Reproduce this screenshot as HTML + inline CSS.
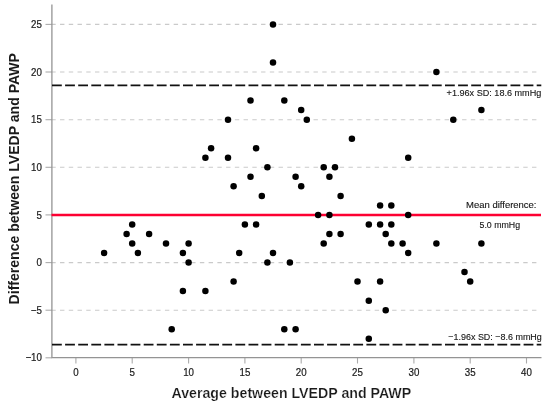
<!DOCTYPE html>
<html><head><meta charset="utf-8"><title>Bland-Altman plot</title>
<style>html,body{margin:0;padding:0;background:#fff}svg{display:block}text{font-family:"Liberation Sans",Arial,sans-serif;fill:#1a1a1a}</style></head><body>
<svg width="550" height="405" viewBox="0 0 550 405">
<rect width="550" height="405" fill="#fff"/>
<g stroke="#cacaca" stroke-width="1.1" stroke-dasharray="4.4 4.34" fill="none">
<line x1="51.3" x2="538" y1="24.4" y2="24.4"/>
<line x1="51.3" x2="538" y1="72.0" y2="72.0"/>
<line x1="51.3" x2="538" y1="119.7" y2="119.7"/>
<line x1="51.3" x2="538" y1="167.3" y2="167.3"/>
<line x1="51.3" x2="538" y1="214.9" y2="214.9"/>
<line x1="51.3" x2="538" y1="262.6" y2="262.6"/>
<line x1="51.3" x2="538" y1="310.2" y2="310.2"/>
</g>
<g stroke="#ababab" stroke-width="1.1" fill="none">
<line x1="45.5" x2="51.9" y1="24.4" y2="24.4"/>
<line x1="45.5" x2="51.9" y1="72.0" y2="72.0"/>
<line x1="45.5" x2="51.9" y1="119.7" y2="119.7"/>
<line x1="45.5" x2="51.9" y1="167.3" y2="167.3"/>
<line x1="45.5" x2="51.9" y1="214.9" y2="214.9"/>
<line x1="45.5" x2="51.9" y1="262.6" y2="262.6"/>
<line x1="45.5" x2="51.9" y1="310.2" y2="310.2"/>
<line x1="45.5" x2="51.9" y1="357.8" y2="357.8"/>
<line x1="75.9" x2="75.9" y1="357.7" y2="363.5"/>
<line x1="132.2" x2="132.2" y1="357.7" y2="363.5"/>
<line x1="188.6" x2="188.6" y1="357.7" y2="363.5"/>
<line x1="244.9" x2="244.9" y1="357.7" y2="363.5"/>
<line x1="301.2" x2="301.2" y1="357.7" y2="363.5"/>
<line x1="357.5" x2="357.5" y1="357.7" y2="363.5"/>
<line x1="413.9" x2="413.9" y1="357.7" y2="363.5"/>
<line x1="470.2" x2="470.2" y1="357.7" y2="363.5"/>
<line x1="526.5" x2="526.5" y1="357.7" y2="363.5"/>
</g>
<path d="M51.9 4.4V357.7H541.5" stroke="#949494" stroke-width="1.3" fill="none"/>
<g stroke="#111" stroke-width="1.75" stroke-dasharray="9.8 3.3" fill="none">
<line x1="52" x2="541.3" y1="85.4" y2="85.4"/>
<line x1="52" x2="541.3" y1="344.5" y2="344.5"/>
</g>
<line x1="51.5" x2="541" y1="214.9" y2="214.9" stroke="#fd0032" stroke-width="2.5"/>
<g fill="#000">
<circle cx="104.1" cy="253.0" r="3.25"/>
<circle cx="126.6" cy="234.0" r="3.25"/>
<circle cx="132.2" cy="224.4" r="3.25"/>
<circle cx="132.2" cy="243.5" r="3.25"/>
<circle cx="137.9" cy="253.0" r="3.25"/>
<circle cx="149.1" cy="234.0" r="3.25"/>
<circle cx="166.0" cy="243.5" r="3.25"/>
<circle cx="171.7" cy="329.2" r="3.25"/>
<circle cx="182.9" cy="253.0" r="3.25"/>
<circle cx="182.9" cy="291.1" r="3.25"/>
<circle cx="188.6" cy="243.5" r="3.25"/>
<circle cx="188.6" cy="262.6" r="3.25"/>
<circle cx="205.4" cy="157.8" r="3.25"/>
<circle cx="205.4" cy="291.1" r="3.25"/>
<circle cx="211.1" cy="148.2" r="3.25"/>
<circle cx="228.0" cy="119.7" r="3.25"/>
<circle cx="228.0" cy="157.8" r="3.25"/>
<circle cx="233.6" cy="186.3" r="3.25"/>
<circle cx="233.6" cy="281.6" r="3.25"/>
<circle cx="239.2" cy="253.0" r="3.25"/>
<circle cx="244.9" cy="224.4" r="3.25"/>
<circle cx="250.5" cy="100.6" r="3.25"/>
<circle cx="250.5" cy="176.8" r="3.25"/>
<circle cx="256.1" cy="148.2" r="3.25"/>
<circle cx="256.1" cy="224.4" r="3.25"/>
<circle cx="261.8" cy="195.9" r="3.25"/>
<circle cx="267.4" cy="167.3" r="3.25"/>
<circle cx="267.4" cy="262.6" r="3.25"/>
<circle cx="273.0" cy="24.4" r="3.25"/>
<circle cx="273.0" cy="62.5" r="3.25"/>
<circle cx="273.0" cy="253.0" r="3.25"/>
<circle cx="284.3" cy="100.6" r="3.25"/>
<circle cx="284.3" cy="329.2" r="3.25"/>
<circle cx="289.9" cy="262.6" r="3.25"/>
<circle cx="295.6" cy="176.8" r="3.25"/>
<circle cx="295.6" cy="329.2" r="3.25"/>
<circle cx="301.2" cy="110.1" r="3.25"/>
<circle cx="301.2" cy="186.3" r="3.25"/>
<circle cx="306.8" cy="119.7" r="3.25"/>
<circle cx="318.1" cy="214.9" r="3.25"/>
<circle cx="323.7" cy="167.3" r="3.25"/>
<circle cx="323.7" cy="243.5" r="3.25"/>
<circle cx="329.4" cy="176.8" r="3.25"/>
<circle cx="329.4" cy="214.9" r="3.25"/>
<circle cx="329.4" cy="234.0" r="3.25"/>
<circle cx="335.0" cy="167.3" r="3.25"/>
<circle cx="340.6" cy="195.9" r="3.25"/>
<circle cx="340.6" cy="234.0" r="3.25"/>
<circle cx="351.9" cy="138.7" r="3.25"/>
<circle cx="357.5" cy="281.6" r="3.25"/>
<circle cx="368.8" cy="224.4" r="3.25"/>
<circle cx="368.8" cy="300.7" r="3.25"/>
<circle cx="368.8" cy="338.8" r="3.25"/>
<circle cx="380.1" cy="205.4" r="3.25"/>
<circle cx="380.1" cy="224.4" r="3.25"/>
<circle cx="380.1" cy="281.6" r="3.25"/>
<circle cx="385.7" cy="234.0" r="3.25"/>
<circle cx="385.7" cy="310.2" r="3.25"/>
<circle cx="391.3" cy="205.4" r="3.25"/>
<circle cx="391.3" cy="224.4" r="3.25"/>
<circle cx="391.3" cy="243.5" r="3.25"/>
<circle cx="402.6" cy="243.5" r="3.25"/>
<circle cx="408.2" cy="157.8" r="3.25"/>
<circle cx="408.2" cy="214.9" r="3.25"/>
<circle cx="408.2" cy="253.0" r="3.25"/>
<circle cx="436.4" cy="72.0" r="3.25"/>
<circle cx="436.4" cy="243.5" r="3.25"/>
<circle cx="453.3" cy="119.7" r="3.25"/>
<circle cx="464.5" cy="272.1" r="3.25"/>
<circle cx="470.2" cy="281.6" r="3.25"/>
<circle cx="481.4" cy="110.1" r="3.25"/>
<circle cx="481.4" cy="243.5" r="3.25"/>
</g>
<g font-size="10.3" text-anchor="end" stroke="#1a1a1a" stroke-width="0.2">
<text transform="translate(41.9 28.0) scale(0.945 1)">25</text>
<text transform="translate(41.9 75.6) scale(0.945 1)">20</text>
<text transform="translate(41.9 123.3) scale(0.945 1)">15</text>
<text transform="translate(41.9 170.9) scale(0.945 1)">10</text>
<text transform="translate(41.9 218.5) scale(0.945 1)">5</text>
<text transform="translate(41.9 266.2) scale(0.945 1)">0</text>
<text transform="translate(41.9 313.8) scale(0.945 1)">−5</text>
<text transform="translate(41.9 361.4) scale(0.945 1)">−10</text>
</g>
<g font-size="10.3" text-anchor="middle" stroke="#1a1a1a" stroke-width="0.2">
<text transform="translate(75.9 375.9) scale(0.945 1)">0</text>
<text transform="translate(132.2 375.9) scale(0.945 1)">5</text>
<text transform="translate(188.6 375.9) scale(0.945 1)">10</text>
<text transform="translate(244.9 375.9) scale(0.945 1)">15</text>
<text transform="translate(301.2 375.9) scale(0.945 1)">20</text>
<text transform="translate(357.5 375.9) scale(0.945 1)">25</text>
<text transform="translate(413.9 375.9) scale(0.945 1)">30</text>
<text transform="translate(470.2 375.9) scale(0.945 1)">35</text>
<text transform="translate(526.5 375.9) scale(0.945 1)">40</text>
</g>
<g font-size="9.6" stroke="#000" stroke-width="0.12" fill="#000">
<text x="446.6" y="95.6" textLength="94.7" lengthAdjust="spacingAndGlyphs">+1.96x SD: 18.6 mmHg</text>
<text x="466.1" y="208.2" textLength="70.4" lengthAdjust="spacingAndGlyphs">Mean difference:</text>
<text x="479.5" y="228.2" textLength="40.6" lengthAdjust="spacingAndGlyphs">5.0 mmHg</text>
<text x="448.3" y="340.3" textLength="93.5" lengthAdjust="spacingAndGlyphs">−1.96x SD: −8.6 mmHg</text>
</g>
<text x="171.5" y="397.9" font-size="14.4" font-weight="bold" stroke="#fff" stroke-width="0.2" textLength="239.7" lengthAdjust="spacingAndGlyphs" fill="#0a0a0a">Average between LVEDP and PAWP</text>
<text transform="translate(19.3 304.4) rotate(-90)" font-size="14.4" font-weight="bold"  textLength="251.4" lengthAdjust="spacingAndGlyphs" fill="#0a0a0a">Difference between LVEDP and PAWP</text>
</svg></body></html>
